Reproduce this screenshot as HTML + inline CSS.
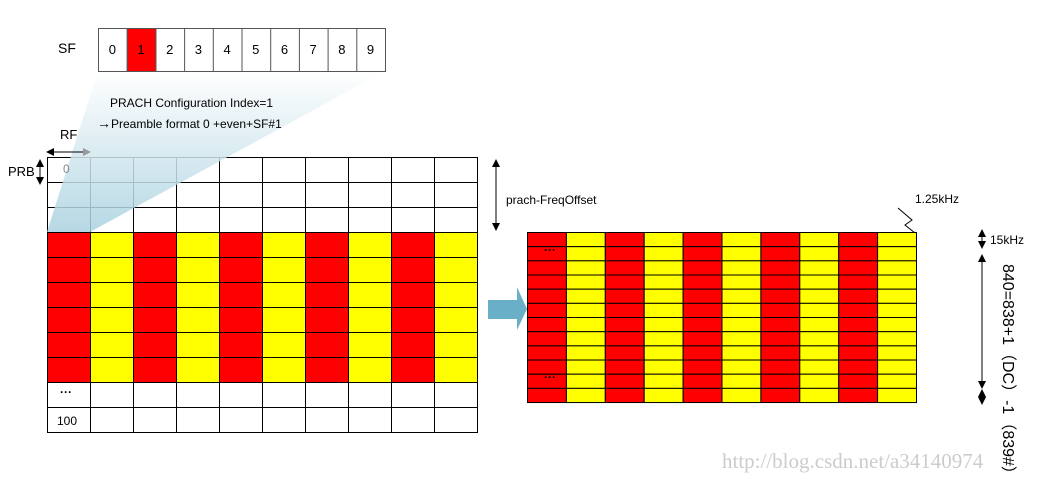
<!DOCTYPE html><html><head><style>
body{margin:0;width:1057px;height:495px;background:#fff;position:relative;overflow:hidden;font-family:"Liberation Sans","Noto Sans CJK SC",sans-serif;}
.t{position:absolute;font-size:12px;color:#000;white-space:nowrap}
</style></head><body>
<svg width="1057" height="495" style="position:absolute;left:0;top:0">
<defs>
<linearGradient id="g" x1="0" y1="0" x2="0" y2="1"><stop offset="0" stop-color="#ffffff"/><stop offset="1" stop-color="#a9d1df"/></linearGradient>
<marker id="a" markerWidth="8" markerHeight="8" refX="7" refY="4" orient="auto-start-reverse"><path d="M0,0L8,4L0,8z" fill="#000"/></marker>
<marker id="ag" markerWidth="8" markerHeight="8" refX="7" refY="4" orient="auto-start-reverse"><path d="M0,0L8,4L0,8z" fill="#999"/></marker>
</defs>
<g id="L"></g>
<polygon points="98,71 385,71 90,232 47,232" fill="url(#g)" opacity="0.85"/>
<g stroke="#555" stroke-width="1">
<rect x="98.5" y="28.5" width="287" height="43" fill="#fff"/>
<rect x="127.2" y="28.5" width="28.7" height="43" fill="#f00"/>
</g>
<g id="sfl" stroke="#555"></g>
<line x1="47" y1="152" x2="90" y2="152" stroke="#000" marker-end="url(#ag)" marker-start="url(#a)"/>
<line x1="40" y1="160" x2="40" y2="184" stroke="#000" marker-end="url(#a)" marker-start="url(#a)"/>
<line x1="496" y1="160" x2="496" y2="230" stroke="#000" marker-end="url(#a)" marker-start="url(#a)"/>
<polygon points="488,300 517,300 517,287 527,309 517,330 517,319 488,319" fill="#6aafc8"/>
<polyline points="898,208 912,220 905,225 915,233" fill="none" stroke="#000"/>
<line x1="982" y1="230" x2="982" y2="248" stroke="#000" marker-end="url(#a)" marker-start="url(#a)"/>
<line x1="982" y1="255" x2="982" y2="388" stroke="#000" marker-end="url(#a)" marker-start="url(#a)"/>
<line x1="982" y1="390" x2="982" y2="404" stroke="#000" marker-end="url(#a)" marker-start="url(#a)"/>
</svg>
<script>
var ns="http://www.w3.org/2000/svg",svg=document.querySelector('svg'),L=document.getElementById('L');
function r(x,y,w,h,f,p){var e=document.createElementNS(ns,'rect');e.setAttribute('x',x);e.setAttribute('y',y);e.setAttribute('width',w);e.setAttribute('height',h);e.setAttribute('fill',f);e.setAttribute('stroke','#000');e.setAttribute('stroke-width','1');(p||L).appendChild(e);}
for(var i=0;i<10;i++)for(var j=0;j<11;j++){var f=(j>=3&&j<9)?(i%2?'#ff0':'#f00'):'#fff';r(47.5+i*43,157.5+j*25,43,25,f);}
for(var i=0;i<10;i++)for(var j=0;j<12;j++){r(527.5+i*38.9,232.5+j*14.17,38.9,14.17,i%2?'#ff0':'#f00',svg);}
var g=document.getElementById('sfl');
for(var i=1;i<10;i++){var l=document.createElementNS(ns,'line');var x=98.5+i*28.7;l.setAttribute('x1',x);l.setAttribute('x2',x);l.setAttribute('y1',28.5);l.setAttribute('y2',71.5);g.appendChild(l);}
</script>
<div class="t" style="left:58px;top:40px;font-size:14px">SF</div>
<div style="position:absolute;left:98px;top:42px;font-size:13px;display:flex">
<span style="width:28.7px;text-align:center">0</span><span style="width:28.7px;text-align:center">1</span><span style="width:28.7px;text-align:center">2</span><span style="width:28.7px;text-align:center">3</span><span style="width:28.7px;text-align:center">4</span><span style="width:28.7px;text-align:center">5</span><span style="width:28.7px;text-align:center">6</span><span style="width:28.7px;text-align:center">7</span><span style="width:28.7px;text-align:center">8</span><span style="width:28.7px;text-align:center">9</span></div>
<div class="t" style="left:110px;top:96px">PRACH Configuration Index=1</div>
<div class="t" style="left:97px;top:115px"><span style="font-size:14px">→</span>Preamble format 0 +even+SF#1</div>
<div class="t" style="left:60px;top:127px;font-size:13px">RF</div>
<div class="t" style="left:8px;top:164px;font-size:13px">PRB</div>
<div class="t" style="left:63px;top:162px;color:#888">0</div>
<div class="t" style="left:60px;top:385px;font-weight:bold">···</div>
<div class="t" style="left:57px;top:414px">100</div>
<div class="t" style="left:506px;top:193px">prach-FreqOffset</div>
<div class="t" style="left:915px;top:192px">1.25kHz</div>
<div class="t" style="left:990px;top:233px">15kHz</div>
<div class="t" style="left:544px;top:243px;font-weight:bold;font-size:12px">···</div>
<div class="t" style="left:544px;top:370px;font-weight:bold;font-size:12px">···</div>
<div class="t" style="top:264px;left:1022px;transform-origin:0 0;transform:rotate(90deg);font-size:16px">840=838+1（DC）-1（839#）</div>
<div class="t" style="left:722px;top:449px;font-size:21px;color:#ccc;font-family:'Liberation Serif',serif">http://blog.csdn.net/a34140974</div>
</body></html>
